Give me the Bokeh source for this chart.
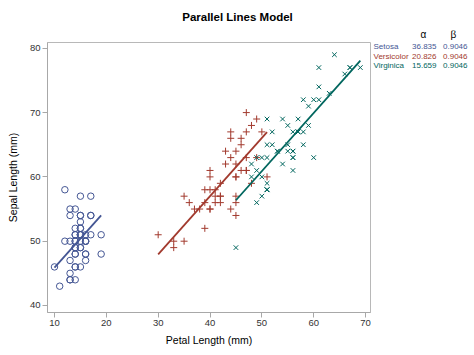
from bokeh.plotting import figure
from bokeh.models import Range1d, FixedTicker, ColumnDataSource
from bokeh.layouts import row, column
from bokeh.core.properties import value
from bokeh.embed import file_html
from bokeh.resources import INLINE

# Iris data (mm): petal length / sepal length
setosa_petal = [14,14,13,15,14,17,14,15,14,15,15,16,14,11,12,15,13,14,17,15,17,15,10,17,19,16,16,15,14,16,16,15,15,14,15,12,13,14,13,15,13,13,13,16,19,14,16,14,15,14]
setosa_sepal = [51,49,47,46,50,54,46,50,44,49,54,48,48,43,58,57,54,51,57,51,54,51,46,51,48,50,50,52,52,47,48,54,52,55,49,50,55,49,44,51,50,45,44,50,51,48,51,46,53,50]
versi_petal = [47,45,49,40,46,45,47,33,46,39,35,42,40,47,36,44,45,41,45,39,48,40,49,47,43,44,48,50,45,35,38,37,39,51,45,45,47,44,41,40,44,46,40,33,42,42,42,43,30,41]
versi_sepal = [70,64,69,55,65,57,63,49,66,52,50,59,60,61,56,67,56,58,62,56,59,61,63,61,64,66,68,67,60,57,55,55,58,60,54,60,67,63,56,55,55,61,58,50,56,57,57,62,51,57]
virg_petal = [60,51,59,56,58,66,45,63,58,61,51,53,55,50,51,53,55,67,69,50,57,49,67,49,57,60,48,49,56,58,61,64,56,51,56,61,56,55,48,54,56,51,51,59,57,52,50,52,54,51]
virg_sepal = [63,58,71,63,65,76,49,73,67,72,65,64,68,57,58,64,65,77,77,60,69,56,77,63,67,72,62,61,64,72,74,79,64,63,61,77,63,64,60,69,67,69,58,68,67,67,63,65,62,59]

species = ["Setosa", "Versicolor", "Virginica"]
alpha = [36.835, 20.826, 15.659]
beta = [0.9046, 0.9046, 0.9046]
colors = ["#445694", "#A23A2E", "#01665E"]

x_ticks = [10, 20, 30, 40, 50, 60, 70]
y_ticks = [40, 50, 60, 70, 80]

FONT = "Liberation Sans"
TITLE_H = 30
TOTAL_W, TOTAL_H = 474, 355
MAIN_W = 372
MAIN_H = TOTAL_H - TITLE_H


def no_align(fig):
    if "frame_align" in fig.properties():
        fig.frame_align = False


# ---- title strip ----
tf = figure(title=None, width=TOTAL_W, height=TITLE_H, output_backend="svg",
            toolbar_location=None,
            x_range=Range1d(0, TOTAL_W), y_range=Range1d(TITLE_H, 0),
            x_axis_type=None, y_axis_type=None,
            min_border=0, min_border_left=0, min_border_right=0,
            min_border_top=0, min_border_bottom=0)
tf.outline_line_color = None
tf.xgrid.visible = False
tf.ygrid.visible = False
tf.text(x=[TOTAL_W / 2], y=[16], text=["Parallel Lines Model"],
        text_font=value(FONT), text_font_size="11.5px", text_font_style="bold",
        text_align="center", text_baseline="middle", text_color="black")

# ---- main plot ----
p = figure(title=None, width=MAIN_W, height=MAIN_H, output_backend="svg",
           toolbar_location=None,
           x_range=Range1d(8.65, 70.96), y_range=Range1d(38.91, 80.9),
           min_border_left=47, min_border_right=2,
           min_border_top=12, min_border_bottom=43)
p.xgrid.visible = False
p.ygrid.visible = False
p.outline_line_color = "#B8B8B8"
p.outline_line_width = 1

for ax, ticks in ((p.xaxis, x_ticks), (p.yaxis, y_ticks)):
    ax.ticker = FixedTicker(ticks=ticks)
    ax.minor_tick_line_color = None
    ax.major_tick_out = 5
    ax.major_tick_in = 0
    ax.axis_line_color = "#A8A8A8"
    ax.major_tick_line_color = "#A8A8A8"
    ax.major_label_text_font = FONT
    ax.major_label_text_font_size = "9.5px"
    ax.major_label_text_color = "#333333"
    ax.axis_label_text_font = FONT
    ax.axis_label_text_font_size = "10.5px"
    ax.axis_label_text_font_style = "normal"
    ax.axis_label_text_color = "black"
    ax.major_label_standoff = 2
p.xaxis.axis_label = "Petal Length (mm)"
p.yaxis.axis_label = "Sepal Length (mm)"
p.xaxis.axis_label_standoff = 5
p.yaxis.axis_label_standoff = 8

p.scatter(setosa_petal, setosa_sepal, marker="circle", size=6.5, fill_color=None,
          line_color=colors[0], line_width=1)
p.scatter(versi_petal, versi_sepal, marker="cross", size=7,
          line_color=colors[1], line_width=1)
p.scatter(virg_petal, virg_sepal, marker="x", size=6.5,
          line_color=colors[2], line_width=1)

groups = [setosa_petal, versi_petal, virg_petal]
for g, a, b, c in zip(groups, alpha, beta, colors):
    xs = [min(g), max(g)]
    ys = [a + b * v for v in xs]
    p.line(xs, ys, line_color=c, line_width=1.8)

# ---- parameter table (right of the frame) ----
TW = TOTAL_W - MAIN_W
tb = figure(title=None, width=TW, height=MAIN_H, output_backend="svg",
            toolbar_location=None,
            x_range=Range1d(MAIN_W, TOTAL_W), y_range=Range1d(TOTAL_H, TITLE_H),
            x_axis_type=None, y_axis_type=None,
            min_border=0, min_border_left=0, min_border_right=0,
            min_border_top=0, min_border_bottom=0)
tb.outline_line_color = None
tb.xgrid.visible = False
tb.ygrid.visible = False

for f in (tf, p, tb):
    no_align(f)

hdr_y = 34
rows_y = [46, 55.5, 65]
name_x, a_x, b_x = 373, 436, 467
tb.text(x=[423, 453], y=[hdr_y, hdr_y], text=["α", "β"], text_font=value(FONT),
        text_font_size="10px", text_align="center", text_baseline="middle",
        text_color="black")
tab = ColumnDataSource(dict(
    y=rows_y, name=species,
    a=[f"{v:.3f}" for v in alpha], b=[f"{v:.4f}" for v in beta], c=colors))
tb.text(x=name_x, y="y", text="name", source=tab, text_font=value(FONT),
        text_font_size="8px", text_color="c", text_align="left", text_baseline="middle")
tb.text(x=a_x, y="y", text="a", source=tab, text_font=value(FONT),
        text_font_size="8px", text_color="c", text_align="right", text_baseline="middle")
tb.text(x=b_x, y="y", text="b", source=tab, text_font=value(FONT),
        text_font_size="8px", text_color="c", text_align="right", text_baseline="middle")

layout = column(tf, row(p, tb))
open("out.html", "w").write(file_html(layout, INLINE))
